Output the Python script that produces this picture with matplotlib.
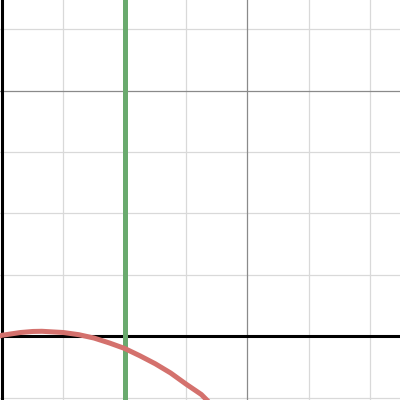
import numpy as np
import matplotlib
matplotlib.use("Agg")
import matplotlib.pyplot as plt

# points
curve_x = [-0.05, 0.0, 0.3, 0.5, 0.65, 1.0, 1.25, 1.5, 1.75, 2.0, 2.25, 2.5, 2.75, 3.0, 3.25, 3.4]
curve_y = [0.0, 0.015, 0.06, 0.077, 0.08, 0.06, 0.025, -0.03, -0.11, -0.2, -0.32, -0.45, -0.60, -0.78, -0.95, -1.1]
green_x = 2.0

minor_ticks = [1, 2, 3, 5, 6]
major_ticks = [4]

fig = plt.figure(figsize=(4, 4), dpi=100)
ax = fig.add_axes([0, 0, 1, 1])
ax.set_xlim(-0.033, 6.49)
ax.set_ylim(-1.04, 5.48)
ax.axis("off")

for t in minor_ticks + [-1]:
    ax.axvline(t, color="#d9d9d9", lw=0.9, zorder=1)
    ax.axhline(t, color="#d9d9d9", lw=0.9, zorder=1)
for t in major_ticks:
    ax.axvline(t, color="#8a8a8a", lw=0.9, zorder=2)
    ax.axhline(t, color="#8a8a8a", lw=0.9, zorder=2)
ax.axvline(0, color="black", lw=2.2, zorder=3)
ax.axhline(0, color="black", lw=2.2, zorder=3)

ax.axvline(green_x, color="#6aaa6e", lw=3.6, zorder=4)
ax.plot(curve_x, curve_y, color="#d4716d", lw=3.6, zorder=5, solid_capstyle="round")

fig.savefig("out.png", dpi=100)
